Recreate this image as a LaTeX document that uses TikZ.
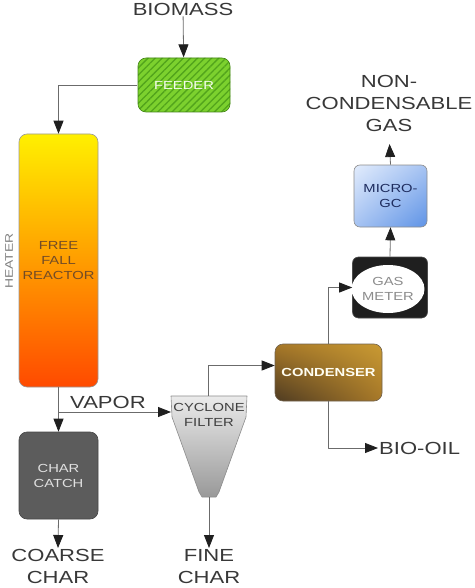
\documentclass[tikz,border=0pt]{standalone}
\usepackage{fontspec}
\setmainfont[FakeStretch=1.26]{Liberation Sans}
\usetikzlibrary{arrows.meta,patterns.meta,shapes.geometric,shadings}
\definecolor{feedgreen}{HTML}{7CD12E}
\definecolor{feedstripe}{HTML}{52A41C}
\definecolor{hotyellow}{HTML}{FFF000}
\definecolor{hotorange}{HTML}{FFB000}
\definecolor{hotred}{HTML}{FF4A00}
\definecolor{condgold}{HTML}{C99A33}
\definecolor{condmid}{HTML}{A77828}
\definecolor{conddark}{HTML}{4E3B22}
\definecolor{gclight}{HTML}{E2ECFC}
\definecolor{gcmid}{HTML}{A6C3F2}
\definecolor{gcdeep}{HTML}{5E93E6}
\definecolor{gctext}{HTML}{1E2C5E}

\begin{document}
\begin{tikzpicture}[line join=round, x=1pt, y=-1pt]
    \tikzset{
        flow/.style={draw=black!58, line width=0.8pt, -{Triangle[length=13pt, width=10pt, color=black!88]}},
        tag/.style={text=black!78, font=\fontsize{17.5}{22}\selectfont, align=center, inner sep=1pt},
        unit/.style={draw=black!40, line width=0.6pt, rounded corners=8pt, align=center, inner sep=0pt,
            font=\fontsize{11.7}{15}\selectfont},
    }
    \useasboundingbox (0,0) rectangle (474,588);

    \node[tag] (biomass) at (183,9) {BIOMASS};
    \node[unit, minimum width=92, minimum height=54, draw=feedstripe!80!black, text=white!92!feedgreen,
        preaction={fill=feedgreen},
        pattern={Lines[angle=45, distance=5pt, line width=1.3pt]}, pattern color=feedstripe] (feeder) at (184,85) {FEEDER};
    \node[unit, minimum width=79, minimum height=253, text=brown!60!black,
        top color=hotyellow, middle color=hotorange, bottom color=hotred] (reactor) at (58.5,260.5) {FREE\\FALL\\REACTOR};
    \node[rotate=90, text=black!50, font=\fontsize{11}{13}\selectfont] (heater) at (9,261) {HEATER};
    \node[unit, minimum width=79, minimum height=87, fill=black!64, draw=black!72, text=black!12] (catch) at (58.5,475.5) {CHAR\\CATCH};
    \node[tag, anchor=north] (coarse) at (58,548) {COARSE\\CHAR};
    \node[tag, anchor=base west] (vapor) at (69,408) {VAPOR};

    \draw[draw=black!45, line width=0.6pt, top color=black!8, bottom color=black!40]
        (171,396) -- (247,396) -- (246,417) -- (219,492) -- (216,497) -- (202,497) -- (199,492) -- (172,417) -- cycle;
    \coordinate (cycin) at (171,412);
    \coordinate (cyctop) at (208,396);
    \coordinate (cycbot) at (209,497);
    \node[text=black!75, font=\fontsize{11.7}{15}\selectfont, align=center, inner sep=0pt] (cyclone) at (209,415) {CYCLONE\\FILTER};
    \node[tag, anchor=north] (fine) at (209,548) {FINE\\CHAR};

    \node[unit, minimum width=107, minimum height=57, draw=conddark!80, text=white!95!yellow, font=\fontsize{11.7}{15}\selectfont\bfseries,
        upper left=condmid, upper right=condgold, lower left=conddark, lower right=condmid] (condenser) at (328.5,372.5) {CONDENSER};
    \node[tag, anchor=west] (biooil) at (378,448) {BIO-OIL};

    \node[unit, minimum width=75, minimum height=61, rounded corners=6pt, fill=black!88, draw=black!70] (gasmeter) at (390,287.5) {};
    \node[ellipse, fill=white, minimum width=56, minimum height=48, inner sep=0pt, align=center, text=black!45,
        font=\fontsize{11.7}{15}\selectfont] (meterface) at (388,289) {GAS\\METER};
    \node[unit, minimum width=73, minimum height=62, rounded corners=6pt, draw=black!45, text=gctext,
        upper left=gclight, upper right=gcmid, lower left=gcmid, lower right=gcdeep] (microgc) at (390.5,196) {MICRO-\\GC};
    \node[tag, anchor=south] (noncond) at (389,133) {NON-\\CONDENSABLE\\GAS};

    \draw[flow] (biomass) -- (feeder);
    \draw[flow] (feeder.west) -| (reactor.north);
    \draw[flow] (reactor.south) -- (catch.north);
    \coordinate (split) at (58.5,412);
    \draw[flow] (split) -- (cycin);
    \draw[flow] (catch.south) -- (coarse.north);
    \draw[flow] (cycbot) -- (fine.north);
    \draw[flow] (cyctop) |- ([yshift=7pt]condenser.west);
    \draw[flow] (condenser.south) |- (biooil.west);
    \draw[flow] (condenser.north) |- (gasmeter.west);
    \draw[flow] (gasmeter.north) -- (microgc.south);
    \draw[flow, shorten >=11pt] (microgc.north) -- (noncond.south);
\end{tikzpicture}
\end{document}
